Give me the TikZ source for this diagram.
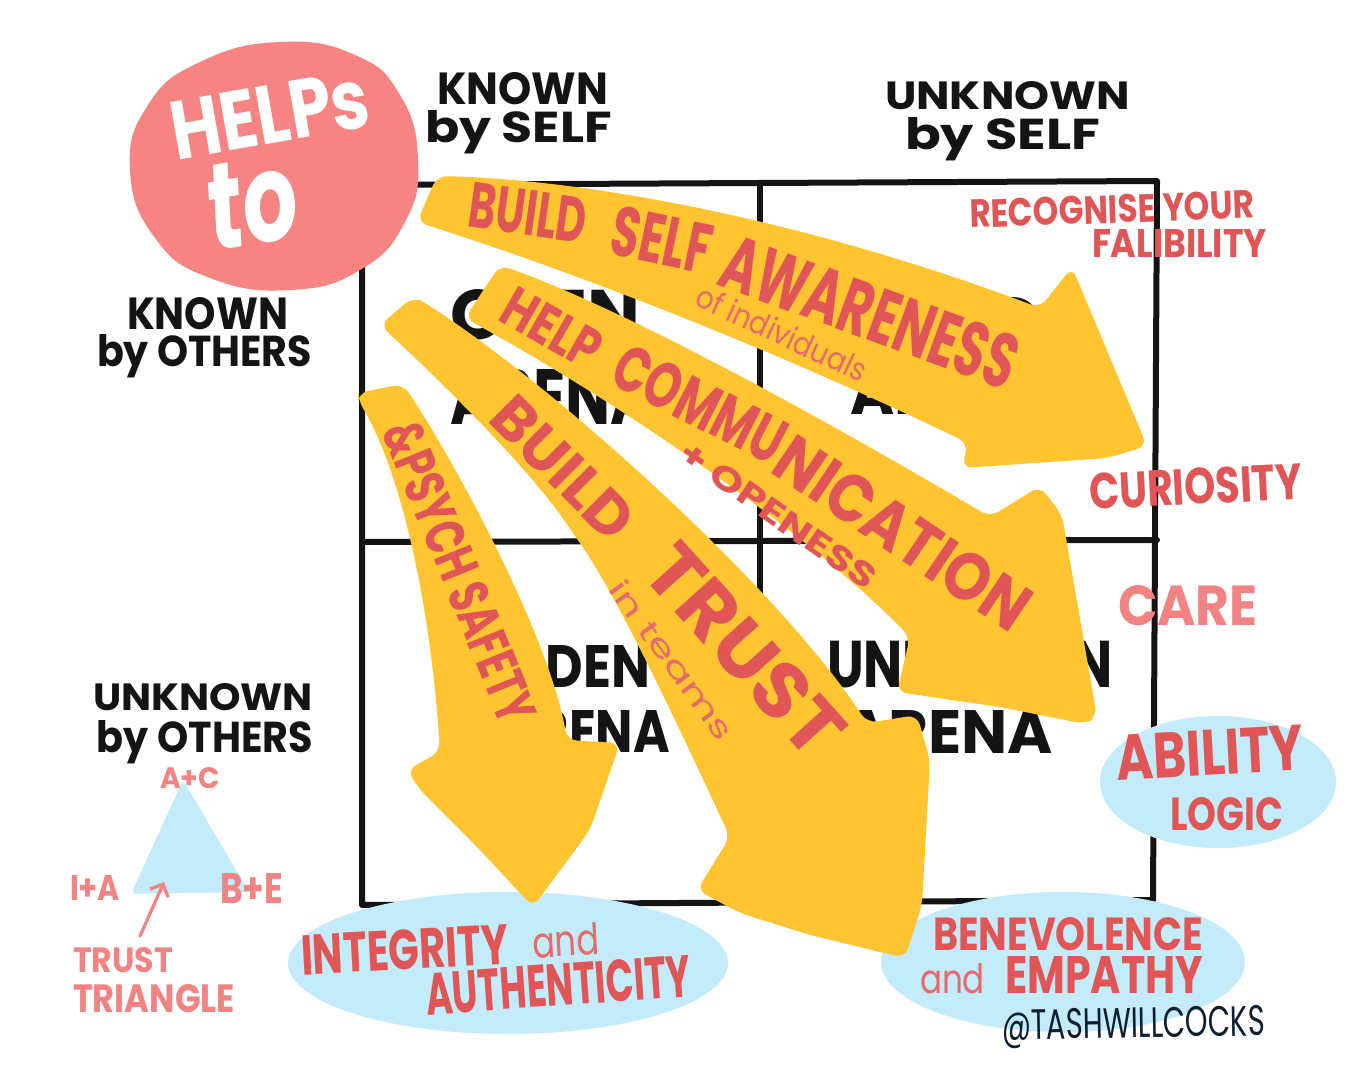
\documentclass[tikz,border=0pt]{standalone}
\usepackage{fontspec}
\setmainfont{Poppins}
\usepackage{graphicx}
\usetikzlibrary{arrows.meta}
\newdimen\pxu \pxu=0.5pt
\newcommand\tbx[3]{\resizebox{#1\pxu}{#2\pxu}{#3}}
\definecolor{ayellow}{HTML}{FFC431}
\definecolor{tred}{HTML}{E05656}
\definecolor{tredl}{HTML}{E56A6A}
\definecolor{tpink}{HTML}{F28383}
\definecolor{blobpink}{HTML}{F58483}
\definecolor{lblue}{HTML}{C3EBFA}
\definecolor{inkblack}{HTML}{141414}
\definecolor{navy}{HTML}{0E2030}
\begin{document}
\begin{tikzpicture}[x=0.5pt,y=-0.5pt,
  gridline/.style={line width=3pt,draw=inkblack,line cap=round,line join=round},
  yarrow/.style={fill=ayellow,rounded corners=5pt},
  txt/.style={inner sep=0pt,outer sep=0pt},
  blk/.style={txt,text=inkblack,font=\bfseries,anchor=base west},
  rd/.style={txt,text=tred,font=\bfseries},
  rdl/.style={txt,text=tredl,font=\mdseries},
  rdw/.style={txt,text=tred,font=\bfseries,anchor=base west},
  pk/.style={txt,text=tpink,font=\bfseries,anchor=base west},
  pinkline/.style={draw=tpink,line width=1.6pt,line cap=round,line join=round}]
\useasboundingbox (0,0) rectangle (1350,1080);
\fill[white] (0,0) rectangle (1350,1080);

% grid
\draw[gridline] (362,185) -- (1157,181) -- (1153,900) -- (362,905) -- cycle;
\draw[gridline] (760,185) -- (760,903);
\draw[gridline] (362,542) -- (1157,540);

% quadrant labels (mostly hidden)
\node[blk] (q1a) at (450,340) {\tbx{190}{50}{OPEN}};
\node[blk] (q1b) at (450,425) {\tbx{205}{55}{ARENA}};
\node[blk] (q2a) at (840,345) {\tbx{200}{47}{BLIND}};
\node[blk] (q2b) at (850,415) {\tbx{205}{45}{ARENA}};
\node[blk] (q3a) at (455,687) {\tbx{195}{42}{HIDDEN}};
\node[blk] (q3b) at (500,752) {\tbx{170}{42}{ARENA}};
\node[blk] (q4a) at (827,687) {\tbx{286}{47}{UNKNOWN}};
\node[blk] (q4b) at (843,753) {\tbx{210}{43}{ARENA}};

% blue shapes
\fill[lblue] (508,963) ellipse [x radius=220, y radius=71];
\fill[lblue] (1063,962) ellipse [x radius=182, y radius=70];
\fill[lblue] (1218,782) ellipse [x radius=118, y radius=66];
\fill[lblue,rounded corners=3pt] (183,780) -- (249,892) -- (131,894) -- cycle;

% pink blob
\fill[blobpink] plot[smooth cycle, tension=0.8] coordinates {(130,170) (148,105) (200,62) (280,42) (355,55) (400,95) (418,160) (405,222) (360,270) (290,290) (210,278) (155,238)};

% yellow arrows
\fill[yarrow] (437,176) .. controls (600,180) and (820,225) .. (1040,308) -- (1072,267) -- (1147,446) -- (1108,458) -- (962,468) -- (968,443) .. controls (800,362) and (600,280) .. (417,222) -- cycle;
\fill[yarrow] (500,265) .. controls (640,315) and (860,440) .. (990,517) -- (1040,486) -- (1062,515) -- (1097,717) -- (1085,724) -- (1000,707) -- (897,692) -- (910,637) .. controls (820,545) and (650,420) .. (465,318) -- cycle;
\fill[yarrow] (413,297) -- (422,301) .. controls (560,390) and (780,590) .. (867,723) -- (917,715) -- (930,760) -- (922,905) -- (905,958) -- (810,935) -- (740,913) -- (697,890) -- (730,837) .. controls (680,730) and (620,600) .. (573,533) .. controls (530,470) and (450,390) .. (380,325) -- cycle;
\fill[yarrow] (358,393) -- (403,384) .. controls (460,470) and (550,640) .. (567,740) -- (620,743) -- (590,830) -- (533,907) -- (480,850) -- (420,790) -- (407,770) -- (440,752) .. controls (430,600) and (400,470) .. (358,400) -- cycle;

% axis labels
\node[blk] (ks1) at (437,105) {\tbx{171}{32}{KNOWN}};
\node[blk] (ks2) at (425,143) {\tbx{187}{32}{by SELF}};
\node[blk] (us1) at (885,110) {\tbx{245}{28}{UNKNOWN}};
\node[blk] (us2) at (905,150) {\tbx{195}{32}{by SELF}};
\node[blk] (ko1) at (127,330) {\tbx{161}{32}{KNOWN}};
\node[blk] (ko2) at (97,367) {\tbx{215}{32}{by OTHERS}};
\node[blk] (uo1) at (93,710) {\tbx{220}{27}{UNKNOWN}};
\node[blk] (uo2) at (97,752) {\tbx{216}{32}{by OTHERS}};

% blob text
\node[txt,text=white,font=\bfseries,rotate=10] (helps) at (270,115) {\tbx{200}{58}{HELPs}};
\node[txt,text=white,font=\bfseries\itshape,rotate=10] (to) at (252,202) {\tbx{90}{85}{to}};

% arrow texts
\node[rd,rotate=-8] (a1a) at (528,213) {\tbx{118}{45}{BUILD}};
\node[rd,rotate=-12] (a1b) at (662,240) {\tbx{100}{50}{SELF}};
\node[rd,rotate=-20] (a1c) at (870,312) {\tbx{310}{55}{AWARENESS}};
\node[rdl,rotate=-25] (a1d) at (782,333) {\tbx{185}{24}{of individuals}};
\node[rd,rotate=-30] (a2a) at (552,328) {\tbx{105}{40}{HELP}};
\node[rd,rotate=-27] (a2b) at (700,404) {\tbx{185}{46}{COMMU}};
\node[rd,rotate=-34] (a2d) at (903,533) {\tbx{292}{48}{NICATION}};
\node[rd,rotate=-35] (a2c) at (778,515) {\tbx{232}{24}{+ OPENESS}};
\node[rd,rotate=-45] (a3a) at (563,468) {\tbx{175}{42}{BUILD}};
\node[rd,rotate=-48] (a3b) at (745,650) {\tbx{255}{55}{TRUST}};
\node[rdl,rotate=-54] (a3c) at (672,660) {\tbx{190}{22}{in teams}};
\node[rd,rotate=-68] (a4) at (460,572) {\tbx{320}{40}{\&PSYCH SAFETY}};

% right side labels
\node[rdw,rotate=2] (rec1) at (970,228) {\tbx{285}{28}{RECOGNISE YOUR}};
\node[rdw] (rec2) at (1092,258) {\tbx{175}{28}{FALIBILITY}};
\node[rdw,rotate=3] (cur) at (1090,510) {\tbx{213}{36}{CURIOSITY}};
\node[pk] (care) at (1118,625) {\tbx{140}{40}{CARE}};
\node[rdw,rotate=3] (abil) at (1117,780) {\tbx{188}{45}{ABILITY}};
\node[rdw] (logic) at (1170,830) {\tbx{113}{33}{LOGIC}};

% bottom ovals text
\node[rdw,rotate=3] (integ) at (302,975) {\tbx{208}{40}{INTEGRITY}};
\node[rdl,anchor=base west,rotate=3] (and1) at (533,958) {\tbx{67}{32}{and}};
\node[rdw,rotate=4] (auth) at (427,1015) {\tbx{266}{42}{AUTHENTICITY}};
\node[rdw] (bene) at (933,950) {\tbx{270}{33}{BENEVOLENCE}};
\node[rdl,anchor=base west] (and2) at (920,993) {\tbx{65}{30}{and}};
\node[rdw] (emp) at (1005,993) {\tbx{198}{37}{EMPATHY}};
\node[txt,text=navy,font=\mdseries,anchor=base west,rotate=1] (tag) at (1002,1040) {\tbx{263}{30}{@TASHWILLCOCKS}};

% trust triangle labels
\node[pk] (ac) at (160,788) {\tbx{60}{21}{A+C}};
\node[pk] (ia) at (70,900) {\tbx{50}{25}{I+A}};
\node[pk] (be) at (220,903) {\tbx{63}{30}{B+E}};
\node[pk] (tt1) at (73,972) {\tbx{100}{25}{TRUST}};
\node[pk] (tt2) at (73,1012) {\tbx{162}{28}{TRIANGLE}};
\coordinate (ttail) at (140,936);
\coordinate (ttip) at (164,882);
\draw[pinkline,-{Straight Barb[length=5pt,width=10pt]}] (ttail) -- (ttip);
\end{tikzpicture}
\end{document}
